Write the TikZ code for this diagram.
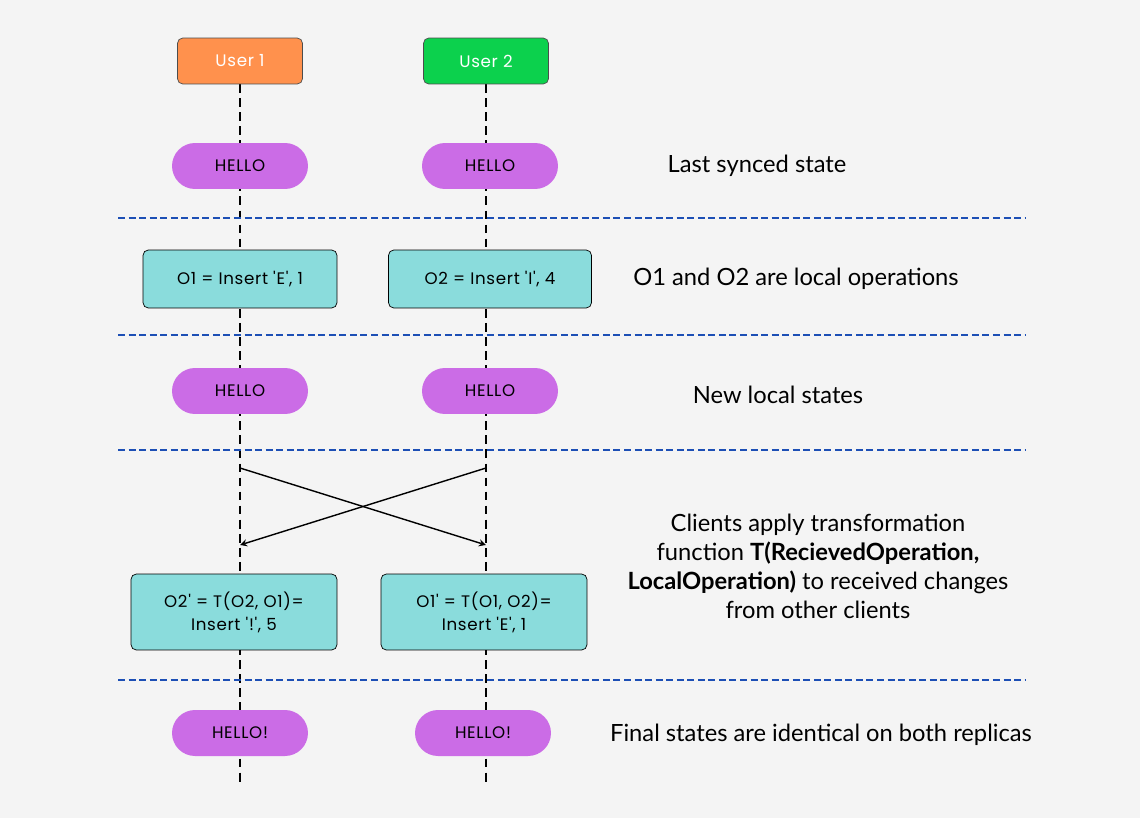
\documentclass[tikz,border=0pt]{standalone}
\usepackage{fontspec}
\setmainfont{Lato}
\newfontfamily\boxfont{Poppins}[LetterSpace=4]
\definecolor{bgcol}{HTML}{F4F4F4}
\definecolor{usera}{HTML}{FF914D}
\definecolor{userb}{HTML}{0CD14D}
\definecolor{pillcol}{HTML}{CB6CE6}
\definecolor{opcol}{HTML}{8ADCDC}
\definecolor{sepcol}{HTML}{1C4FB5}
\tikzset{
  user/.style={draw=black!70, rounded corners=3pt, minimum width=2.5cm, minimum height=0.92cm, text=white, font=\boxfont\fontsize{9.5}{11}\selectfont},
  pill/.style={fill=pillcol, rounded corners=0.46cm, minimum width=2.72cm, minimum height=0.92cm, font=\boxfont\fontsize{9.5}{10}\selectfont},
  op/.style={draw=black, fill=opcol, rounded corners=3pt, minimum height=1.16cm, align=center, font=\boxfont\fontsize{9.5}{13}\selectfont},
  note/.style={align=center, font=\fontsize{13.5}{16.5}\selectfont},
  life/.style={dashed, thick, dash pattern=on 5pt off 3pt},
  sep/.style={sepcol, thick, dash pattern=on 4pt off 2pt}
}
\begin{document}
\begin{tikzpicture}[x=0.02cm,y=-0.02cm]
\fill[bgcol] (0,0) rectangle (1140,818);
% lifelines
\coordinate (la) at (240,785);
\coordinate (lb) at (486,785);
\draw[life] (240,84) -- (la);
\draw[life] (486,84) -- (lb);
% separators
\foreach \y in {218,335,450,680}
  \draw[sep] (118,\y) -- (1025,\y);
% users
\node[user, fill=usera] (ua) at (240,61) {User 1};
\node[user, fill=userb] (ub) at (486,61) {User 2};
% states
\node[pill] (sa) at (240,166) {HELLO};
\node[pill] (sb) at (490,166) {HELLO};
\node[op, minimum width=3.88cm] (oa) at (240,279) {O1 = Insert 'E', 1};
\node[op, minimum width=4.06cm] (ob) at (490,279) {O2 = Insert 'I', 4};
\node[pill] (na) at (240,391) {HELLO};
\node[pill] (nb) at (490,391) {HELLO};
\node[op, minimum width=4.12cm, minimum height=1.52cm] (ta) at (234,612) {O2' = T(O2, O1)=\\Insert '!', 5};
\node[op, minimum width=4.12cm, minimum height=1.52cm] (tb) at (484,612) {O1' = T(O1, O2)=\\Insert 'E', 1};
\node[pill] (fa) at (240,733) {HELLO!};
\node[pill] (fb) at (483,733) {HELLO!};
% exchange
\coordinate (xa) at (240,468);
\coordinate (xb) at (486,468);
\coordinate (ya) at (240,545);
\coordinate (yb) at (486,545);
\draw[thick, -stealth] (xa) -- (yb);
\draw[thick, -stealth] (xb) -- (ya);
% notes
\node[note] (n1) at (757,166) {Last synced state};
\node[note] (n2) at (796,279) {O1 and O2 are local operations};
\node[note] (n3) at (778,395) {New local states};
\node[note] (n4) at (818,566) {Clients apply transformation\\function \textbf{T(RecievedOperation,}\\\textbf{LocalOperation)} to received changes\\from other clients};
\node[note] (n5) at (821,735) {Final states are identical on both replicas};
\end{tikzpicture}
\end{document}
